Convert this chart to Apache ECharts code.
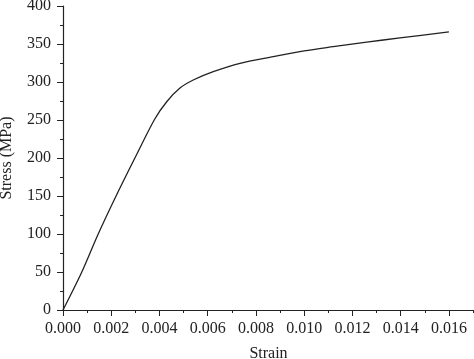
<!DOCTYPE html>
<html>
<head>
<meta charset="utf-8">
<script src="https://cdn.jsdelivr.net/npm/echarts@6/dist/echarts.min.js"></script>
<style>
  html, body { margin: 0; padding: 0; background: #fff; }
  #Chart { width: 474px; height: 359px; }
</style>
</head>
<body>
<div id="Chart"></div>
<script>
  // strain / stress points
  var strain = [0, 0.00078, 0.00146, 0.0022, 0.00298, 0.0038, 0.0043, 0.00485, 0.0054,
    0.00623, 0.00734, 0.00872, 0.01, 0.0112, 0.01259, 0.01397, 0.016];
  var stress = [0, 50, 100, 150, 200, 251, 274, 292, 302.6,
    313.6, 324.6, 333.3, 341, 346.5, 352.5, 358, 366];

  var xTicks = { min: 0, max: 0.01704, interval: 0.002 };
  var yTicks = { min: 0, max: 400, interval: 50 };

  var font = '"Liberation Serif", "DejaVu Serif", serif';
  var Chart = echarts.init(document.getElementById('Chart'));

  Chart.setOption({
    animation: false,
    grid: { left: 63, right: 0, top: 6, bottom: 49, outerBoundsMode: 'none', containLabel: false },
    xAxis: {
      type: 'value',
      min: xTicks.min,
      max: xTicks.max,
      interval: xTicks.interval,
      name: 'Strain',
      nameLocation: 'middle',
      nameGap: 36,
      nameTextStyle: { fontFamily: font, fontSize: 16, color: '#222' },
      axisLine: { onZero: false, lineStyle: { color: '#222', width: 1.2 } },
      axisTick: { inside: false, length: 6, lineStyle: { color: '#222' } },
      minorTick: { show: true, splitNumber: 2, length: 3, lineStyle: { color: '#222' } },
      splitLine: { show: false },
      axisLabel: {
        fontFamily: font, fontSize: 16, color: '#222', margin: 11,
        showMaxLabel: false,
        formatter: function (v) { return v.toFixed(3); }
      }
    },
    yAxis: {
      type: 'value',
      min: yTicks.min,
      max: yTicks.max,
      interval: yTicks.interval,
      name: 'Stress (MPa)',
      nameLocation: 'middle',
      nameGap: 48,
      nameTextStyle: { fontFamily: font, fontSize: 16, color: '#222' },
      axisLine: { show: true, lineStyle: { color: '#222', width: 1.2 } },
      axisTick: { show: true, length: 6, lineStyle: { color: '#222' } },
      minorTick: { show: true, splitNumber: 2, length: 3, lineStyle: { color: '#222' } },
      splitLine: { show: false },
      axisLabel: { fontFamily: font, fontSize: 16, color: '#222', margin: 12 }
    },
    series: [{
      type: 'line',
      data: strain.map(function (s, i) { return [s, stress[i]]; }),
      smooth: 0.3,
      showSymbol: false,
      lineStyle: { color: '#222', width: 1.3 }
    }]
  });
</script>
</body>
</html>
